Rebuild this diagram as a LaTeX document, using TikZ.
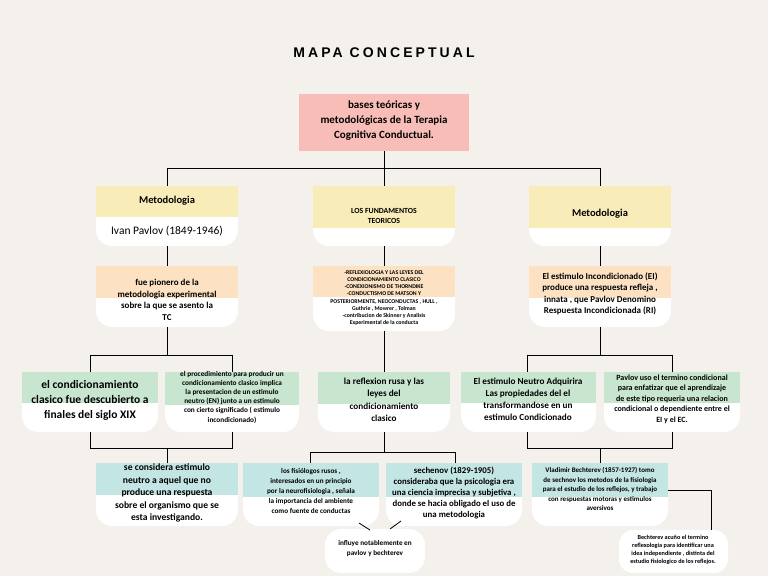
\documentclass[tikz,border=0pt]{standalone}
\usepackage{fontspec}
\setmainfont{Carlito}
\newfontfamily\titlefont[LetterSpace=22]{Liberation Sans}
\definecolor{bg}{HTML}{F4F0EB}
\definecolor{cpink}{HTML}{F8BDB7}
\definecolor{cyel}{HTML}{F8EDB8}
\definecolor{corg}{HTML}{FCE2C3}
\definecolor{cgrn}{HTML}{C8E6CF}
\definecolor{ccyn}{HTML}{C3E5E3}
\newcommand{\cbox}[7]{% name x1 y1 x2 y2 ysplit color
  \fill[white,rounded corners=16pt] (#2,#3) rectangle (#4,#5);
  \fill[#7] (#2,#3) rectangle (#4,#6);
  \node[inner sep=0pt,minimum width={#4pt-#2pt},minimum height={#5pt-#3pt}] (#1) at ({(#2+#4)/2},{(#3+#5)/2}) {};}
\tikzset{
  txt/.style={align=center,inner sep=0pt,font=\bfseries\fontsize{9}{11}\selectfont},
  conn/.style={draw=black,line width=0.8pt}
}
\begin{document}
\begin{tikzpicture}[x=1pt,y=-1pt]
\fill[bg] (0,0) rectangle (768,576);
\useasboundingbox (0,0) rectangle (768,576);
\node[font=\titlefont\bfseries\fontsize{14}{16}\selectfont] (title) at (384,53) {MAPA CONCEPTUAL};
% root
\fill[cpink] (299,94) rectangle (469,151);
\node[inner sep=0pt,minimum width=170pt,minimum height=57pt] (root) at (384,122.5) {};
\node[txt,font=\bfseries\fontsize{11}{15}\selectfont] (roott) at (384,121) {bases teóricas y\\metodológicas de la Terapia\\Cognitiva Conductual.};
% row 1
\cbox{A}{96}{186}{238}{246}{217}{cyel}
\cbox{B}{313}{186}{455}{246}{228}{cyel}
\cbox{C}{529}{186}{671}{246}{228}{cyel}
\node[txt,font=\bfseries\fontsize{10.5}{12}\selectfont] (At1) at (167,201) {Metodologia};
\node[txt,font=\fontsize{11.5}{13}\selectfont] (At2) at (167,231) {Ivan Pavlov (1849-1946)};
\node[txt,font=\bfseries\fontsize{7.8}{10}\selectfont] (Bt) at (384,216) {LOS FUNDAMENTOS\\TEORICOS};
\node[txt,font=\bfseries\fontsize{10.5}{12}\selectfont] (Ct) at (600,214) {Metodologia};
% row 2
\cbox{A2}{96}{266}{238}{327}{298}{corg}
\cbox{B2}{313}{266}{455}{331}{297}{corg}
\cbox{C2}{529}{266}{671}{327}{298}{corg}
\node[txt,font=\bfseries\fontsize{9}{11.5}\selectfont] (A2t) at (167,300) {fue pionero de la\\metodologia experimental\\sobre la que se asento la\\TC};
\node[txt,font=\bfseries\fontsize{5.8}{7.2}\selectfont] (B2t) at (384,298) {-REFLEXIOLOGIA Y LAS LEYES DEL\\CONDICIONAMIENTO CLASICO\\-CONEXIONISMO DE THORNDIKE\\-CONDUCTISMO DE MATSON Y\\POSTERIORMENTE, NEOCONDUCTAS , HULL ,\\Guthrie , Mowrer , Tolman\\-contribucion de Skinner y Analisis\\Experimental de la conducta};
\node[txt,font=\bfseries\fontsize{9}{11.5}\selectfont] (C2t) at (600,294) {El estimulo Incondicionado (EI)\\produce una respuesta refleja ,\\innata , que Pavlov Denomino\\Respuesta Incondicionada (RI)};
% row 3
\cbox{A3a}{22}{372}{158}{432}{403}{cgrn}
\cbox{A3b}{165}{372}{299}{432}{405}{cgrn}
\cbox{B3}{318}{372}{450}{432}{404}{cgrn}
\cbox{C3a}{461}{372}{596}{432}{403}{cgrn}
\cbox{C3b}{604}{372}{740}{432}{403}{cgrn}
\node[txt,font=\bfseries\fontsize{11.5}{15}\selectfont] (A3at) at (90,400) {el condicionamiento\\clasico fue descubierto a\\finales del siglo XIX};
\node[txt,font=\bfseries\fontsize{7.3}{9.2}\selectfont] (A3bt) at (232,397) {el procedimiento para producir un\\condicionamiento clasico implica\\la presentacion de un estimulo\\neutro (EN) junto a un estimulo\\con cierto significado ( estimulo\\incondicionado)};
\node[txt,font=\bfseries\fontsize{9.2}{12.5}\selectfont] (B3t) at (384,400) {la reflexion rusa y las\\leyes del\\condicionamiento\\clasico};
\node[txt,font=\bfseries\fontsize{9.2}{12}\selectfont] (C3at) at (528,399) {El estimulo Neutro Adquirira\\Las propiedades del el\\transformandose en un\\estimulo Condicionado};
\node[txt,font=\bfseries\fontsize{8}{10.5}\selectfont] (C3bt) at (672,399) {Pavlov uso el termino condicional\\para enfatizar que el aprendizaje\\de este tipo requeria una relacion\\condicional o dependiente entre el\\EI y el EC.};
% row 4
\cbox{A4}{96}{463}{238}{526}{495}{ccyn}
\cbox{B4a}{243}{463}{379}{526}{497}{ccyn}
\cbox{B4b}{386}{463}{522}{526}{497}{ccyn}
\cbox{C4}{532}{463}{668}{526}{497}{ccyn}
\node[txt,font=\bfseries\fontsize{9.6}{12.5}\selectfont] (A4t) at (167,493) {se considera estimulo\\neutro a aquel que no\\produce una respuesta\\sobre el organismo que se\\esta investigando.};
\node[txt,font=\bfseries\fontsize{7.2}{10}\selectfont] (B4at) at (311,491) {los fisiólogos rusos ,\\interesados en un principio\\por la neurofisiologia , señala\\la importancia del ambiente\\como fuente de conductas};
\node[txt,font=\bfseries\fontsize{8.8}{11}\selectfont] (B4bt) at (454,493) {sechenov (1829-1905)\\consideraba que la psicologia era\\una ciencia imprecisa y subjetiva ,\\donde se hacia obligado el uso de\\una metodologia};
\node[txt,font=\bfseries\fontsize{7}{9.5}\selectfont] (C4t) at (600,489) {Vladimir Bechterev (1857-1927) tomo\\de sechnov los metodos de la fisiologia\\para el estudio de los reflejos, y trabajo\\con respuestas motoras y estimulos\\aversivos};
% row 5
\fill[white,rounded corners=16pt] (325,529) rectangle (425,573);
\node[inner sep=0pt,minimum width=100pt,minimum height=44pt] (B5) at (375,551) {};
\node[txt,font=\bfseries\fontsize{7.2}{10}\selectfont] (B5t) at (375,549) {influye notablemente en\\pavlov y bechterev};
\fill[white,rounded corners=14pt] (619,530) rectangle (728,573);
\node[inner sep=0pt,minimum width=109pt,minimum height=43pt] (C5) at (673.5,551.5) {};
\node[txt,font=\bfseries\fontsize{6.2}{8}\selectfont] (C5t) at (673,550) {Bechterev acuño el termino\\reflexologia para identificar una\\idea independiente , distinta del\\estudio fisiologico de los reflejos.};
% connectors
\draw[conn] (root.south) -- (384,168) -| (A.north);
\draw[conn] (root.south) -- (384,168) -| (C.north);
\draw[conn] (root.south) -- (B.north);
\draw[conn] (A.south) -- (A2.north);
\draw[conn] (B.south) -- (B2.north);
\draw[conn] (C.south) -- (C2.north);
\draw[conn] (A2.south) -- (167,355) -| (90,372);
\draw[conn] (167,355) -| (232,372);
\draw[conn] (B2.south) -- (B3.north);
\draw[conn] (C2.south) -- (600,355) -| (527,372);
\draw[conn] (600,355) -| (672,372);
\draw[conn] (90,432) -- (90,448) -| (232,432);
\draw[conn] (167,448) -- (A4.north);
\draw[conn] (B3.south) -- (384,452);
\draw[conn] (310,463) |- (455,452) -- (455,463);
\draw[conn] (527,432) -- (527,448) -| (672,432);
\draw[conn] (600,448) -- (C4.north);
\draw[conn] (668,490) -- (711,490) -- (711,530);
\draw[conn] (359,523) -- (370,530);
\draw[conn] (401,521) -- (390,529);
\end{tikzpicture}
\end{document}
